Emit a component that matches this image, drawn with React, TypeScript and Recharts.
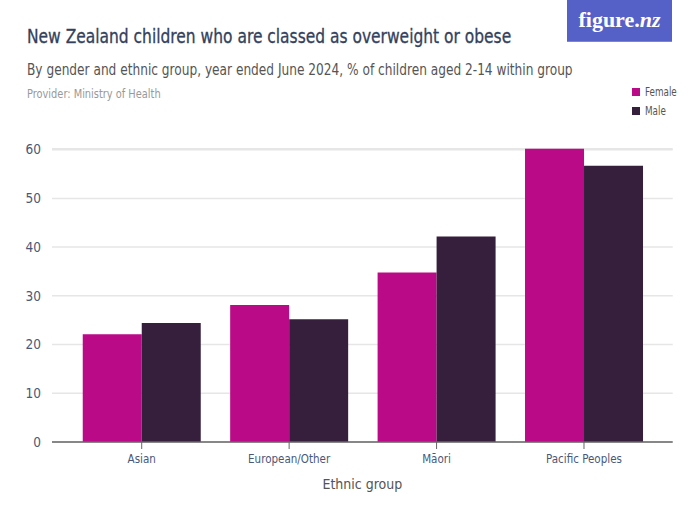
import React from 'react';
import { BarChart, Bar, XAxis, YAxis, CartesianGrid, Legend } from 'recharts';

const categories = ['Asian', 'European/Other', 'Māori', 'Pacific Peoples'];
const femaleValues = [22.1, 28.1, 34.8, 60.2];
const maleValues = [24.4, 25.2, 42.2, 56.7];
const yTicks = [0, 10, 20, 30, 40, 50, 60];

const data = categories.map((c, i) => ({ group: c, Female: femaleValues[i], Male: maleValues[i] }));

const FONT = '"Liberation Sans Narrow", "DejaVu Sans Condensed", "Roboto Condensed", sans-serif';
const FEMALE = '#bb0a87';
const MALE = '#361f3c';

const LegendContent = (props: any) => {
  const payload = props.payload || [];
  return (
    <div style={{ fontFamily: FONT }}>
      {payload.map((p: any) => (
        <div key={p.value} style={{ display: 'flex', alignItems: 'center', height: 19, fontSize: 11.5, color: '#555' }}>
          <span style={{ display: 'inline-block', width: 8, height: 8, background: p.color, marginRight: 5 }} />
          <span style={{ display: 'inline-block', transform: 'scaleX(0.85)', transformOrigin: 'left center' }}>{p.value}</span>
        </div>
      ))}
    </div>
  );
};

const squeeze = (s: number): React.CSSProperties => ({ transform: `scaleX(${s})`, transformOrigin: 'left top' });

export default function App() {
  return (
    <div style={{ position: 'absolute', left: 0, top: 0, width: 700, height: 525, background: '#fff', overflow: 'hidden', fontFamily: FONT }}>
      <div style={{ position: 'absolute', left: 567, top: 0, width: 105, height: 42, background: '#5661c8', borderBottom: '1px solid #7b85d6', boxSizing: 'border-box', color: '#fff', fontFamily: '"Liberation Serif", "DejaVu Serif", serif', fontWeight: 'bold', fontSize: 22, lineHeight: '40px', textAlign: 'center' }}>
        figure.<i>nz</i>
      </div>
      <div style={{ position: 'absolute', left: 27, top: 23, fontSize: 20, color: '#33415c', fontWeight: 500, whiteSpace: 'nowrap', lineHeight: '26px', WebkitTextStroke: '0.3px #33415c', ...squeeze(0.86) }}>
        New Zealand children who are classed as overweight or obese
      </div>
      <div style={{ position: 'absolute', left: 27, top: 59, fontSize: 16.5, color: '#555', whiteSpace: 'nowrap', lineHeight: '22px', ...squeeze(0.82) }}>
        By gender and ethnic group, year ended June 2024, % of children aged 2-14 within group
      </div>
      <div style={{ position: 'absolute', left: 27, top: 87, fontSize: 11.5, color: '#999', whiteSpace: 'nowrap', lineHeight: '14px', ...squeeze(0.95) }}>
        Provider: Ministry of Health
      </div>
      <div style={{ position: 'absolute', left: 0, top: 0 }}>
        <BarChart width={700} height={525} data={data} margin={{ top: 148.7, right: 27.3, bottom: 33, left: 12 }} barCategoryGap="10%" barGap={0}>
          <CartesianGrid vertical={false} stroke="#e6e6e6" strokeWidth={1.5} />
          <XAxis dataKey="group" padding={{ left: 16, right: 15 }} axisLine={{ stroke: '#666', strokeWidth: 1.5 }} tickLine={{ stroke: '#666' }} tickSize={7} tickMargin={6} height={50}
            tick={{ fill: '#4a5878', fontSize: 11.5, fontFamily: FONT }} label={{ value: 'Ethnic group', position: 'insideBottom', offset: 3, fill: '#555', fontSize: 14, fontFamily: FONT }} />
          <YAxis domain={[0, 'dataMax']} ticks={yTicks} width={40} axisLine={false} tickLine={false} tickSize={0} tickMargin={11}
            tick={{ fill: '#4a5878', fontSize: 13.5, fontFamily: FONT }} />
          <Legend layout="vertical" verticalAlign="middle" align="center" content={LegendContent} wrapperStyle={{ position: 'absolute', top: 82, left: 632, width: 70, height: 40 }} />
          <Bar dataKey="Female" fill={FEMALE} isAnimationActive={false} />
          <Bar dataKey="Male" fill={MALE} isAnimationActive={false} />
        </BarChart>
      </div>
    </div>
  );
}
